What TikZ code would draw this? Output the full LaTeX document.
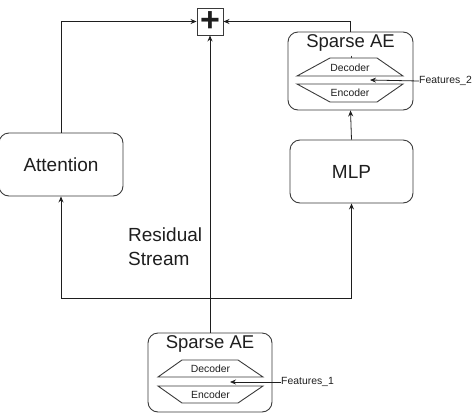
\documentclass[tikz,border=0pt]{standalone}
\usepackage{fontspec}
\setmainfont{Liberation Sans}
\usetikzlibrary{arrows.meta}
\definecolor{edge}{HTML}{3A3A3A}
\definecolor{ink}{HTML}{1E1E1E}
\tikzset{
  box/.style={draw=edge, line width=0.9pt, rounded corners=10pt, text=ink},
  trap/.style={draw=edge, line width=0.9pt},
  conn/.style={draw=ink, line width=0.8pt},
  arr/.style={conn, -{Stealth[length=6pt,width=5pt]}},
  bigtxt/.style={font=\fontsize{19}{24}\selectfont, text=ink},
  midtxt/.style={font=\fontsize{18.5}{22}\selectfont, text=ink},
  smalltxt/.style={font=\fontsize{10.4}{12}\selectfont, text=ink, inner sep=0pt},
}
\begin{document}
\begin{tikzpicture}[x=1pt,y=-1pt]
\useasboundingbox (0,0) rectangle (474,413);
% main boxes
\node[box, minimum width=124pt, minimum height=63pt, bigtxt] (attn) at (61,164.5) {Attention};
\node[box, minimum width=123pt, minimum height=63pt, bigtxt] (mlp) at (351.5,171.5) {MLP};
\node[box, minimum width=125pt, minimum height=78pt] (sae2) at (350.5,71) {};
\node[box, minimum width=124pt, minimum height=79pt] (sae1) at (210,372.5) {};
\node[draw=edge, line width=0.9pt, minimum width=26pt, minimum height=27pt, inner sep=0pt,
      font=\fontsize{34}{34}\selectfont\bfseries, text=ink] (plus) at (210,21.5) {+};
% titles
\node[midtxt, inner sep=0pt] (t2) at (350.5,43) {Sparse AE};
\node[midtxt, inner sep=0pt] (t1) at (210,344) {Sparse AE};
% top sparse AE internals
\draw[trap] (297,76) -- (330,58) -- (377,58) -- (403,76) -- cycle;
\node[smalltxt] (dec2) at (350,67.5) {Decoder};
\draw[trap] (297,84) -- (403,84) -- (377,102) -- (330,102) -- cycle;
\node[smalltxt] (enc2) at (350,93) {Encoder};
\draw[trap] (351,55.5) -- (351,58);
\coordinate (f2end) at (370,80);
\node[smalltxt, anchor=west] (feat2) at (419,81) {Features\_2};
\draw[arr] (feat2.west) -- (f2end);
% bottom sparse AE internals
\draw[trap] (158,377) -- (182,360) -- (238,360) -- (263,377) -- cycle;
\node[smalltxt] (dec1) at (210.5,368.5) {Decoder};
\draw[trap] (158,386) -- (263,386) -- (238,403) -- (182,403) -- cycle;
\node[smalltxt] (enc1) at (210.5,394.5) {Encoder};
\coordinate (f1end) at (230,382);
\node[smalltxt, anchor=west] (feat1) at (281,382) {Features\_1};
\draw[arr] (feat1.west) -- (f1end);
% residual stream label
\node[bigtxt, align=left, anchor=north west, inner sep=0pt] (res) at (128,228) {Residual\\Stream};
% connectors
\coordinate (split) at (210,298);
\draw[arr] (sae1.north) -- (plus.south);
\draw[arr] (split) -| (attn.south);
\draw[arr] (split) -| (mlp.south);
\draw[arr] (attn.north) |- (plus.west);
\draw[arr] (mlp.north) -- (sae2.south);
\draw[arr] (sae2.north) |- (plus.east);
\end{tikzpicture}
\end{document}
